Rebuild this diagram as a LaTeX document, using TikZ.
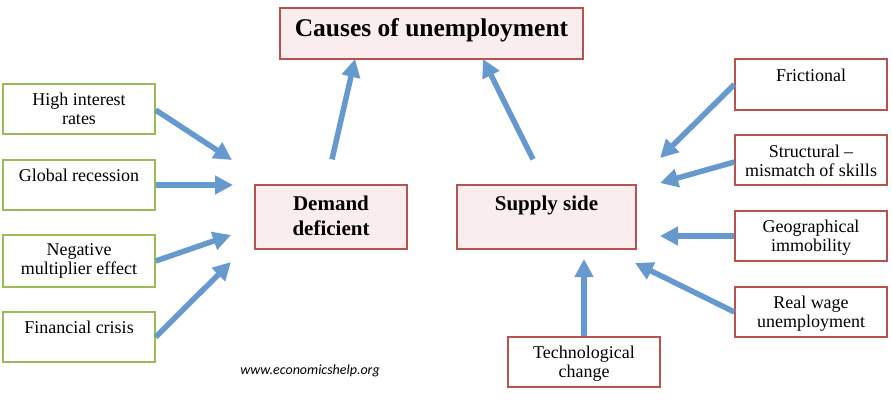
\documentclass[tikz,border=0pt]{standalone}
\usepackage{fontspec}
\setmainfont{Liberation Serif}
\newfontfamily\webfont{Carlito}
\usepackage{tikz}
\usetikzlibrary{arrows.meta,positioning}
\usepackage{xcolor}
\definecolor{causered}{RGB}{184,82,80}
\definecolor{causepink}{RGB}{250,237,237}
\definecolor{causegreen}{RGB}{155,187,89}
\definecolor{arrowblue}{RGB}{102,153,206}
\newcommand{\boxtext}[4]{\parbox[c][#2][t]{#1}{\centering\vspace*{#3}#4}}

\begin{document}
\begin{tikzpicture}[x=1pt,y=-1pt]
	\useasboundingbox (0,0) rectangle (892,408);
	\begin{scope}[every node/.style={draw=causered,line width=1.3pt,fill=causepink,inner sep=0pt,font=\bfseries\fontsize{21}{25}\selectfont}]
		\node (causes) at (431.5,33.5) {\fontsize{25.5}{28}\selectfont\boxtext{303pt}{51pt}{11pt}{Causes of unemployment}};
		\node (demand) at (331,217) {\boxtext{152pt}{64pt}{11pt}{Demand\\deficient}};
		\node (supply) at (546.5,217) {\boxtext{179pt}{64pt}{11pt}{Supply side}};
	\end{scope}
	\begin{scope}[every node/.style={draw=causegreen,line width=1.3pt,fill=white,inner sep=0pt,font=\fontsize{18}{19}\selectfont}]
		\node (hir) at (79,109) {\boxtext{152pt}{50pt}{9pt}{High interest\\rates}};
		\node (glob) at (79,185) {\boxtext{152pt}{50pt}{9pt}{Global recession}};
		\node (neg) at (79,261) {\boxtext{152pt}{52pt}{9pt}{Negative\\multiplier effect}};
		\node (fin) at (79,337) {\boxtext{152pt}{50pt}{9pt}{Financial crisis}};
	\end{scope}
	\begin{scope}[every node/.style={draw=causered,line width=1.3pt,fill=white,inner sep=0pt,font=\fontsize{18}{19}\selectfont}]
		\node (fric) at (811,84.5) {\boxtext{152pt}{51pt}{10pt}{Frictional}};
		\node (struct) at (811,160) {\boxtext{152pt}{50pt}{10pt}{Structural --\\mismatch of skills}};
		\node (geo) at (811,236) {\boxtext{152pt}{50pt}{9pt}{Geographical\\immobility}};
		\node (realw) at (811,312) {\boxtext{152pt}{50pt}{9pt}{Real wage\\unemployment}};
		\node (tech) at (584,362) {\boxtext{152pt}{50pt}{9pt}{Technological\\change}};
	\end{scope}
	\node[font=\webfont\itshape\fontsize{14}{16}\selectfont] (web) at (310,371) {www.economicshelp.org};
	\coordinate (hirtip) at (232,160);
	\coordinate (globtip) at (233,185);
	\coordinate (negtip) at (231,235);
	\coordinate (fintip) at (231,262);
	\coordinate (demandtip) at (355,59);
	\coordinate (supplytip) at (483,59);
	\coordinate (frictip) at (660,158);
	\coordinate (structtip) at (660,183);
	\coordinate (geotip) at (660,236);
	\coordinate (realwtip) at (635,263);
	\coordinate (techtip) at (584,259);
	\begin{scope}[arrowblue,line width=5.5pt]
		\draw[-{Triangle[length=18pt,width=18pt]}] ([yshift=-1pt]hir.east) -- (hirtip);
		\draw[-{Triangle[length=18pt,width=18pt]}] (glob.east) -- (globtip);
		\draw[-{Triangle[length=18pt,width=18pt]}] (neg.east) -- (negtip);
		\draw[-{Triangle[length=18pt,width=18pt]}] (fin.east) -- (fintip);
		\draw[-{Triangle[length=18pt,width=18pt]}] ([xshift=1pt,yshift=25pt]demand.north) -- (demandtip);
		\draw[-{Triangle[length=18pt,width=18pt]}] ([xshift=-13.5pt,yshift=25pt]supply.north) -- (supplytip);
		\draw[-{Triangle[length=18pt,width=18pt]}] (fric.west) -- (frictip);
		\draw[-{Triangle[length=18pt,width=18pt]}] ([yshift=-2pt]struct.west) -- (structtip);
		\draw[-{Triangle[length=18pt,width=18pt]}] (geo.west) -- (geotip);
		\draw[-{Triangle[length=18pt,width=18pt]}] (realw.west) -- (realwtip);
		\draw[-{Triangle[length=18pt,width=18pt]}] (tech.north) -- (techtip);
	\end{scope}
\end{tikzpicture}
\end{document}
